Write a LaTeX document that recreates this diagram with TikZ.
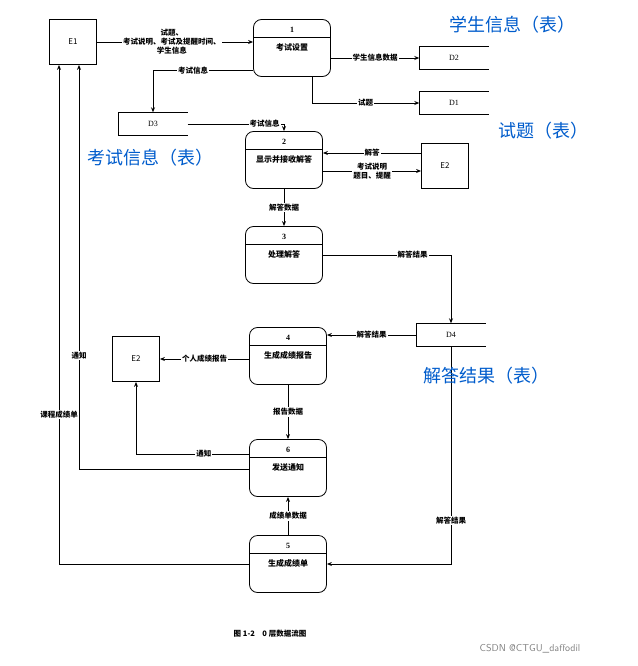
\documentclass[tikz,border=0pt]{standalone}
\usepackage{fontspec}
\setmainfont{Liberation Serif}
\newfontfamily\cjk{Noto Sans CJK SC}
\usetikzlibrary{arrows.meta}

\tikzset{
  ent/.style={draw, thick, minimum width=47pt, minimum height=45pt, font=\cjk\fontsize{8}{9}\selectfont},
  proc/.style={draw, thick, rounded corners=8pt, minimum width=77pt, minimum height=57pt},
  store/.style={minimum width=69pt, minimum height=23pt, font=\fontsize{8}{9}\selectfont},
  ptxt/.style={font=\cjk\bfseries\fontsize{8}{9}\selectfont},
  lbl/.style={fill=white, inner sep=1pt, font=\cjk\bfseries\fontsize{7.5}{9}\selectfont},
  flow/.style={thick, -{Stealth[length=5pt,width=4pt]}},
  note/.style={text=blue!55!cyan!80!black, font=\cjk\fontsize{18}{20}\selectfont}
}

\begin{document}
\begin{tikzpicture}[x=1pt,y=-1pt]
\useasboundingbox (0,0) rectangle (637,666);

% entidades externas
\node[ent] (e1) at (73,42) {E1};
\node[ent] (e2a) at (445,166) {E2};
\node[ent] (e2b) at (136,359) {E2};

% processos
\node[proc] (p1) at (292,48) {};
\node[proc] (p2) at (284,160) {};
\node[proc] (p3) at (284,255) {};
\node[proc] (p4) at (288,356) {};
\node[proc] (p6) at (288,468) {};
\node[proc] (p5) at (288,564) {};
\foreach \p/\n/\t in {p1/1/考试设置, p2/2/显示并接收解答, p3/3/处理解答, p4/4/生成成绩报告, p6/6/发送通知, p5/5/生成成绩单}{
  \draw[thick] ([yshift=-18pt]\p.north west) -- ([yshift=-18pt]\p.north east);
  \node[font=\bfseries\fontsize{8}{9}\selectfont] at ([yshift=-11pt]\p.north) {\n};
  \node[ptxt, text width=68pt, align=center, anchor=north] at ([yshift=-21pt]\p.north) {\t};
}

% depositos de dados
\node[store] (d2) at (454,58) {D2};
\node[store] (d1) at (454,103) {D1};
\node[store] (d3) at (153,124) {D3};
\node[store] (d4) at (451,335) {D4};
\foreach \d in {d2,d1,d3,d4}{
  \draw[thick] (\d.north east) -- (\d.north west) -- (\d.south west) -- (\d.south east);
}

% fluxos
\draw[flow] (e1.east) -- (p1.west|-e1.east) node[lbl, pos=0.48, align=center] {试题、\\考试说明、考试及提醒时间、\\学生信息};
\draw[flow] (p1.east|-d2) -- (d2.west) node[lbl, midway] {学生信息数据};
\draw[flow] (p1.south-|312,0) |- (d1.west) node[lbl, pos=0.75] {试题};
\draw[flow] ([yshift=6pt]p1.west|-p1.south) -| (d3.north) node[lbl, pos=0.3] {考试信息};
\draw[flow] (d3.east) -| (p2.north) node[lbl, pos=0.4] {考试信息};
\draw[flow] ([yshift=13pt]e2a.west) -- ([yshift=13pt]e2a.west-|p2.east) node[lbl, midway] {解答};
\draw[flow] ([yshift=-11pt]p2.east) -- ([yshift=-11pt]p2.east-|e2a.west) node[lbl, midway, align=center] {考试说明\\题目、提醒};
\draw[flow] (p2.south) -- (p3.north) node[lbl, midway] {解答数据};
\draw[flow] (p3.east) -| (d4.north) node[lbl, pos=0.35] {解答结果};
\draw[flow] (d4.west) -- (d4.west-|p4.east) node[lbl, midway] {解答结果};
\draw[flow] (p4.west|-e2b.east) -- (e2b.east) node[lbl, midway] {个人成绩报告};
\draw[flow] (p4.south) -- (p6.north) node[lbl, midway] {报告数据};
\draw[flow] ([yshift=-15pt]p6.north west) -| (e2b.south) node[lbl, pos=0.2] {通知};
\draw[flow] ([yshift=-30pt]p6.north west) -| ([xshift=6pt]e1.south) node[lbl, pos=0.64] {通知};
\draw[flow] (p5.west) -| ([xshift=-14pt]e1.south) node[lbl, pos=0.65] {课程成绩单};
\draw[flow] (p5.north) -- (p6.south) node[lbl, midway] {成绩单数据};
\draw[flow] (d4.south) |- (p5.east) node[lbl, pos=0.4] {解答结果};

% legenda
\node[font=\cjk\bfseries\fontsize{7.5}{9}\selectfont] (cap) at (270,634) {图 1-2\quad 0 层数据流图};
\node[note] (n1) at (512,25) {学生信息（表）};
\node[note] (n2) at (543,131) {试题（表）};
\node[note] (n3) at (150,158) {考试信息（表）};
\node[note] (n4) at (486,376) {解答结果（表）};
\node[text=gray, font=\fontsize{10}{11}\selectfont\sffamily] (wm) at (530,649) {CSDN @CTGU\_daffodil};
\end{tikzpicture}
\end{document}
